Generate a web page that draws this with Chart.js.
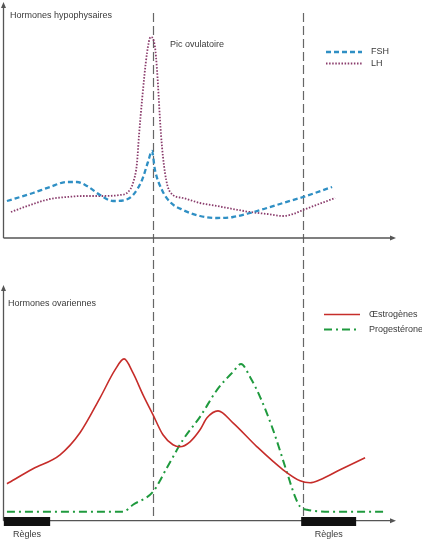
<!DOCTYPE html>
<html><head><meta charset="utf-8">
<script src="https://cdn.jsdelivr.net/npm/chart.js@4/dist/chart.umd.min.js"></script>
<style>
html,body{margin:0;padding:0;background:#fff;overflow:hidden;width:422px;height:539px}
#c1{position:absolute;left:0;top:0}
#c2{position:absolute;left:0;top:260px}
</style></head><body>
<canvas id="c1" width="422" height="260"></canvas>
<canvas id="c2" width="422" height="279"></canvas>
<script>
// ---- data (days of the cycle, arbitrary hormone levels) ----
const fshDays   = [0.49,2.91,4.48,6.06,6.99,7.92,9.13,10.33,11.45,12.19,13.03,13.58,13.95,14.23,14.88,15.63,16.83,18.41,19.99,21.47,23.05,24.63,26.12,27.98,30.67];
const fshLevels = [37,45,51,56,56,52,43,37,38,43,58,76,87,68,48,36,28,22,20,21,25,30,35,41,51];
const lhDays    = [0.86,2.91,4.48,6.06,7.54,9.13,10.98,11.73,12.19,12.56,12.75,13.03,13.49,13.83,14.23,14.42,14.79,15.16,15.63,16.83,18.41,19.99,21.47,23.05,24.63,26.12,27.05,27.98,30.95];
const lhLevels  = [26,34,39,41,42,42,43,46,55,75,103,138,185,201,191,168,103,65,46,40,35,32,29,26,24,22,24,28,40];
const oestroDays   = [0.49,2.91,5.42,7.27,9.13,10.52,11.36,12.19,13.12,14.05,14.97,15.9,16.55,17.48,18.41,19.06,20.08,21.47,23.70,26.12,27.70,28.62,29.55,31.41,33.73];
const oestroLevels = [37,52,66,88,123,151,162,148,126,106,86,76,74,79,91,103,110,98,74,51,40,38,41,51,63];
const progDays   = [0.49,11.26,12.19,14.05,15.34,16.83,18.41,19.99,21.47,22.22,23.05,23.98,25.19,26.49,27.23,27.70,28.35,30.76,35.40];
const progLevels = [9,9,16,29,53,81,104,131,149,157,144,124,91,48,24,14,11,9,9];
const cycleMarks = [14, 28];
const mensesStart = [0.2, 27.8];
const mensesEnd   = [4.5, 32.9];
const mensesLabel = "Règles";
const topTitle = "Hormones hypophysaires";
const peakLabel = "Pic ovulatoire";
const bottomTitle = "Hormones ovariennes";

const FONT = '9px "Liberation Sans", Arial, Helvetica, sans-serif';
const TXT = '#3a3a3a';
const AX = '#555555';

function pts(xs, ys){ return xs.map((x,i)=>({x:x, y:ys[i]})); }

function decor(o){
  return {
    id: 'decor',
    beforeDatasetsDraw(chart){
      const ctx = chart.ctx, sx = chart.scales.x;
      ctx.save();
      ctx.strokeStyle = '#666';
      ctx.lineWidth = 1.2;
      ctx.setLineDash([9,4]);
      cycleMarks.forEach(m=>{
        const x = Math.round(sx.getPixelForValue(m))+0.5;
        ctx.beginPath(); ctx.moveTo(x, o.markTop); ctx.lineTo(x, o.markBottom(chart)); ctx.stroke();
      });
      ctx.restore();
    },
    afterDraw(chart){
      const ctx = chart.ctx, ca = chart.chartArea, sx = chart.scales.x;
      ctx.save();
      // axes
      ctx.strokeStyle = AX; ctx.fillStyle = AX; ctx.lineWidth = 1.3; ctx.setLineDash([]);
      ctx.beginPath();
      ctx.moveTo(ca.left, ca.bottom); ctx.lineTo(ca.right-5, ca.bottom);
      ctx.moveTo(ca.left, ca.bottom); ctx.lineTo(ca.left, ca.top+5);
      ctx.stroke();
      ctx.beginPath();
      ctx.moveTo(ca.right, ca.bottom); ctx.lineTo(ca.right-6, ca.bottom-2.5); ctx.lineTo(ca.right-6, ca.bottom+2.5); ctx.closePath(); ctx.fill();
      ctx.beginPath();
      ctx.moveTo(ca.left, ca.top); ctx.lineTo(ca.left-2.5, ca.top+6); ctx.lineTo(ca.left+2.5, ca.top+6); ctx.closePath(); ctx.fill();
      // texts
      ctx.font = FONT; ctx.fillStyle = TXT; ctx.textBaseline = 'middle'; ctx.textAlign = 'left';
      o.texts.forEach(t=>ctx.fillText(t.s, t.x, t.y));
      // legend
      chart.data.datasets.forEach((ds,i)=>{
        const y = o.legY + i*o.legStep;
        ctx.strokeStyle = ds.borderColor; ctx.lineWidth = ds.borderWidth;
        ctx.setLineDash(ds.borderDash || []);
        ctx.beginPath(); ctx.moveTo(o.legX1, y); ctx.lineTo(o.legX2, y); ctx.stroke();
        ctx.setLineDash([]);
        ctx.fillStyle = TXT; ctx.fillText(ds.label, o.legText, y);
      });
      // menses bars
      if (o.menses){
        mensesStart.forEach((s,i)=>{
          const x1 = sx.getPixelForValue(s), x2 = sx.getPixelForValue(mensesEnd[i]);
          ctx.fillStyle = '#111';
          ctx.fillRect(x1, ca.bottom-3.7, x2-x1, 9);
          ctx.fillStyle = TXT; ctx.textAlign = 'center';
          ctx.fillText(mensesLabel, (x1+x2)/2, ca.bottom+13.5);
        });
      }
      ctx.restore();
    }
  };
}

const commonScales = {
  x: {type:'linear', min:0.17, max:36.6, display:false},
  y: {type:'linear', min:0, max:236, display:false}
};

new Chart(document.getElementById('c1'), {
  type:'line',
  data:{datasets:[
    {label:'FSH', data:pts(fshDays,fshLevels), borderColor:'#2f8fc4', borderWidth:2.3, borderDash:[5,3], cubicInterpolationMode:'monotone'},
    {label:'LH', data:pts(lhDays,lhLevels), borderColor:'#8a3c6c', borderWidth:1.8, borderDash:[1.5,1.6], cubicInterpolationMode:'monotone'}
  ]},
  options:{
    responsive:false, animation:false,
    layout:{padding:{left:3.5, right:26, top:2, bottom:22}},
    elements:{point:{radius:0}},
    plugins:{legend:{display:false}, tooltip:{enabled:false}},
    scales: JSON.parse(JSON.stringify(commonScales))
  },
  plugins:[decor({
    markTop:13, markBottom:(c)=>260,
    texts:[{s:topTitle,x:10,y:16},{s:peakLabel,x:170,y:45}],
    legX1:326, legX2:362, legY:52, legStep:11.5, legText:371,
    menses:false
  })]
});

new Chart(document.getElementById('c2'), {
  type:'line',
  data:{datasets:[
    {label:'Œstrogènes', data:pts(oestroDays,oestroLevels), borderColor:'#c62d2a', borderWidth:1.6, cubicInterpolationMode:'monotone'},
    {label:'Progestérone', data:pts(progDays,progLevels), borderColor:'#1f9a3e', borderWidth:2, borderDash:[8,4,2,4], cubicInterpolationMode:'monotone'}
  ]},
  options:{
    responsive:false, animation:false,
    layout:{padding:{left:3.5, right:26, top:25, bottom:18.3}},
    elements:{point:{radius:0}},
    plugins:{legend:{display:false}, tooltip:{enabled:false}},
    scales: JSON.parse(JSON.stringify(commonScales))
  },
  plugins:[decor({
    markTop:0, markBottom:(c)=>c.chartArea.bottom,
    texts:[{s:bottomTitle,x:8,y:44}],
    legX1:324, legX2:360, legY:54.5, legStep:15, legText:369,
    menses:true
  })]
});
</script>
</body></html>
